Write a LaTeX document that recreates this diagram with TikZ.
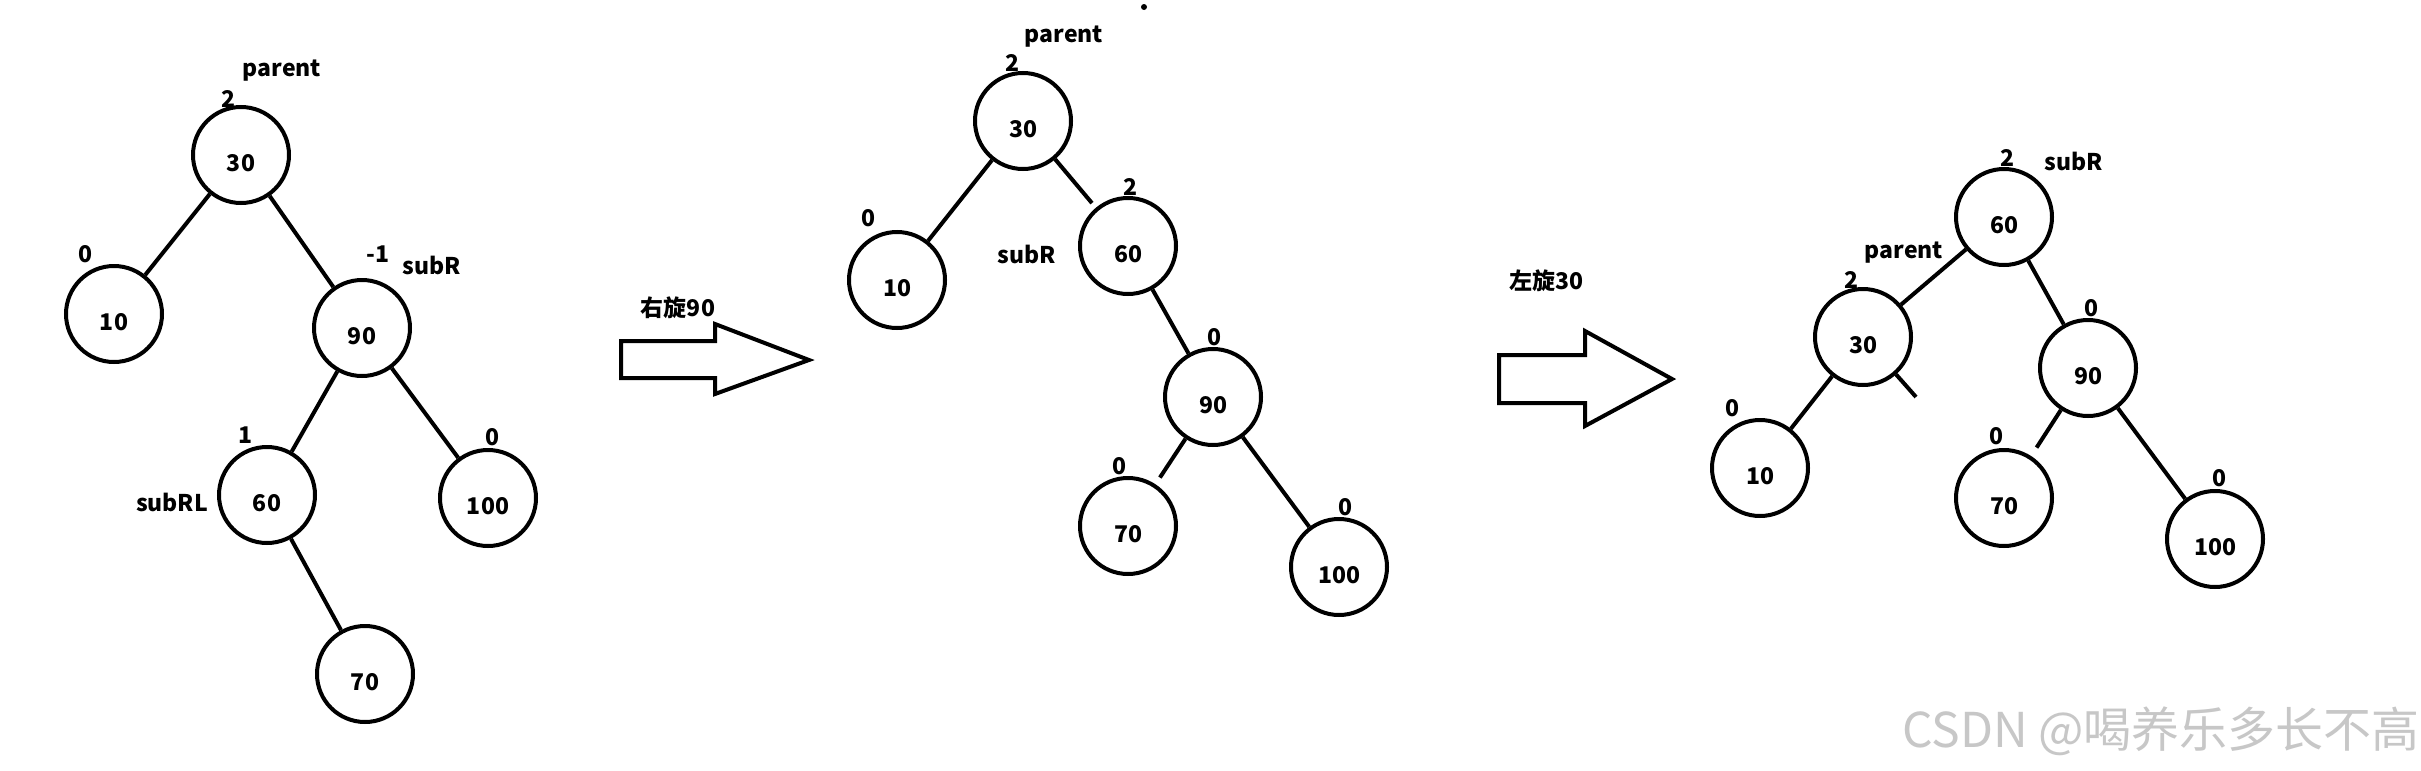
\documentclass[tikz,border=0pt]{standalone}
\usepackage{fontspec}
\setmainfont{Noto Sans CJK SC}
\begin{document}
\begin{tikzpicture}[x=1pt,y=-1pt,line width=4pt,
  vertex/.style={draw,circle,minimum size=96pt,inner sep=0pt,text height=33pt,text depth=0pt,font=\fontsize{23}{23}\selectfont\bfseries},
  tag/.style={inner sep=0pt,font=\fontsize{23}{23}\selectfont\bfseries},
  bigarrow/.style={draw,line join=miter}]
\fill [white] (0,0) rectangle (2421,771);
\useasboundingbox (0,0) rectangle (2421,771);
% first tree
\node [vertex] (a30) at (241,155) {30};
\node [vertex] (a10) at (114,314) {10};
\node [vertex] (a90) at (362,328) {90};
\node [vertex] (a60) at (267,495) {60};
\node [vertex] (a100) at (488,498) {100};
\node [vertex] (a70) at (365,674) {70};
\draw (a30) -- (a10);
\draw (a30) -- (a90);
\draw (a90) -- (a60);
\draw (a90) -- (a100);
\draw (a60) -- (a70);
\node [tag] (aparent) at (282,71) {parent};
\node [tag] (abf30) at (229,99) {2};
\node [tag] (abf10) at (86,254) {0};
\node [tag] (abf90) at (378,254) {-1};
\node [tag] (asubR) at (432,265) {subR};
\node [tag] (abf60) at (246,435) {1};
\node [tag] (abf100) at (492,437) {0};
\node [tag] (asubRL) at (172,502) {subRL};
% first arrow
\node [tag] (rotR) at (678,308) {右旋90};
\draw [bigarrow] (621,341) -- (715,341) -- (715,324) -- (809,360) -- (715,394) -- (715,378) -- (621,378) -- cycle;
% second tree
\node [vertex] (b30) at (1023,121) {30};
\node [vertex] (b10) at (897,280) {10};
\node [vertex] (b60) at (1128,246) {60};
\node [vertex] (b90) at (1213,397) {90};
\node [vertex] (b70) at (1128,526) {70};
\node [vertex] (b100) at (1339,567) {100};
\draw (b30) -- (b10);
\draw [shorten >=6pt] (b30) -- (b60);
\draw (b60) -- (b90);
\draw [shorten >=8pt] (b90) -- (b70);
\draw (b90) -- (b100);
\node [tag] (bparent) at (1064,37) {parent};
\node [tag] (bbf30) at (1012,63) {2};
\node [tag] (bbf10) at (868,218) {0};
\node [tag] (bbf60) at (1130,187) {2};
\node [tag] (bsubR) at (1027,254) {subR};
\node [tag] (bbf90) at (1214,337) {0};
\node [tag] (bbf70) at (1119,466) {0};
\node [tag] (bbf100) at (1345,507) {0};
\fill (1144,7) circle (3);
% second arrow
\node [tag] (rotL) at (1546,281) {左旋30};
\draw [bigarrow] (1499,355) -- (1585,355) -- (1585,331) -- (1672,379) -- (1585,426) -- (1585,403) -- (1499,403) -- cycle;
% third tree
\node [vertex] (c60) at (2004,217) {60};
\node [vertex] (c30) at (1863,337) {30};
\node [vertex] (c10) at (1760,468) {10};
\node [vertex] (c90) at (2088,368) {90};
\node [vertex] (c70) at (2004,498) {70};
\node [vertex] (c100) at (2215,539) {100};
\coordinate (cstub) at (1916,397);
\draw (c60) -- (c30);
\draw (c60) -- (c90);
\draw (c30) -- (c10);
\draw (c30) -- (cstub);
\draw [shorten >=10pt] (c90) -- (c70);
\draw (c90) -- (c100);
\node [tag] (cbf60) at (2007,158) {2};
\node [tag] (csubR) at (2074,161) {subR};
\node [tag] (cparent) at (1904,253) {parent};
\node [tag] (cbf30) at (1851,280) {2};
\node [tag] (cbf10) at (1732,408) {0};
\node [tag] (cbf90) at (2091,308) {0};
\node [tag] (cbf70) at (1996,436) {0};
\node [tag] (cbf100) at (2219,478) {0};
% watermark
\node [inner sep=0pt,text=black!22,font=\fontsize{48}{48}\selectfont] (mark) at (2161,731) {CSDN @喝养乐多长不高};
\end{tikzpicture}
\end{document}
